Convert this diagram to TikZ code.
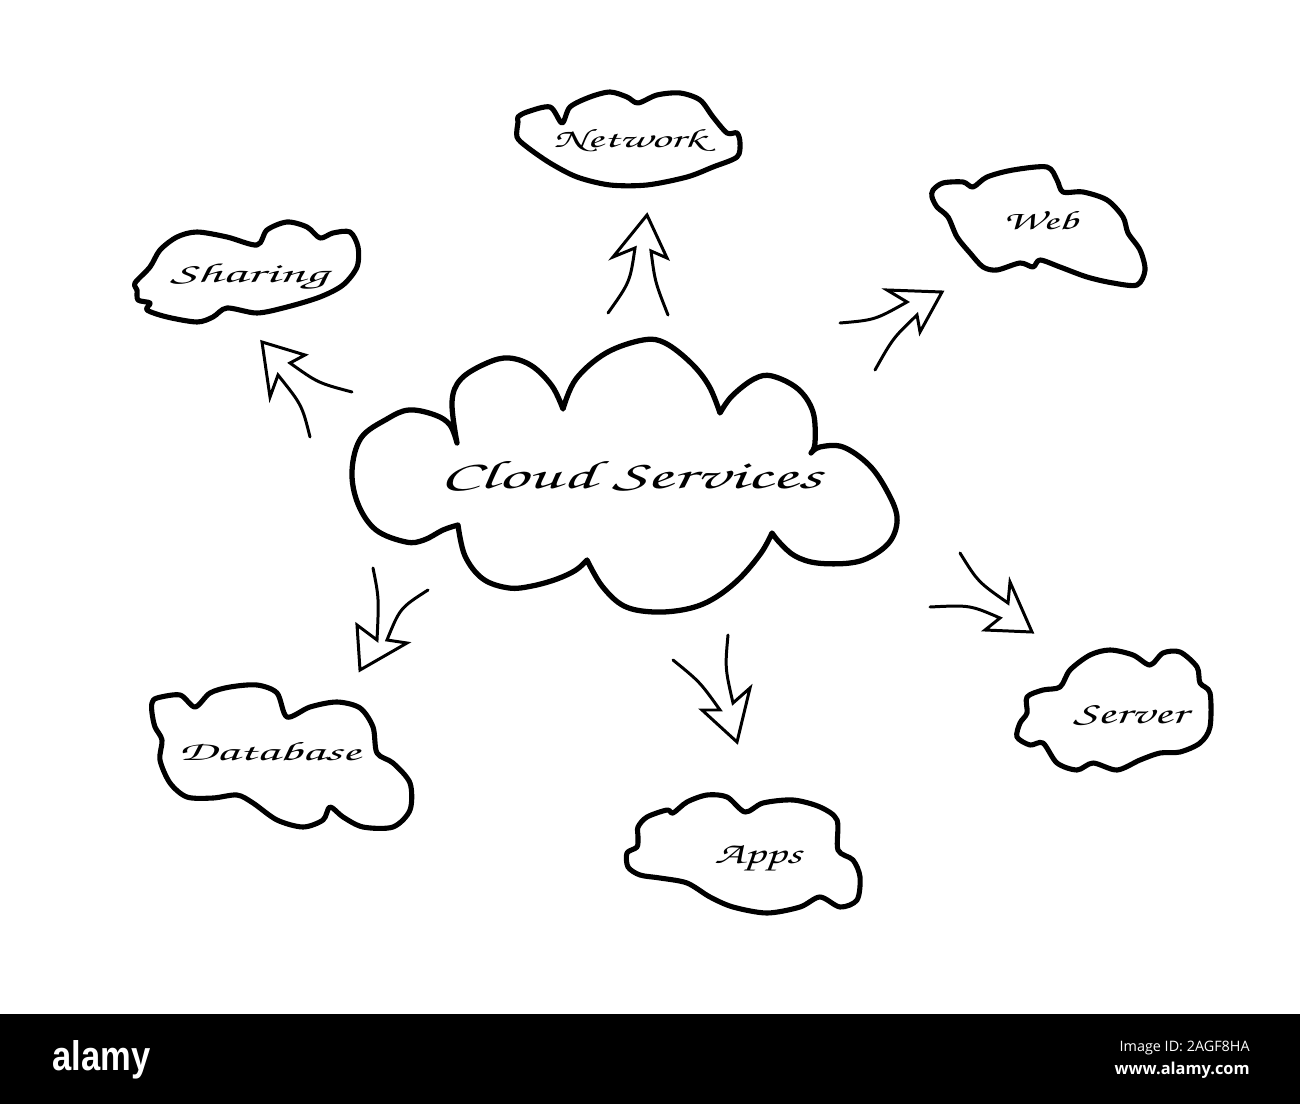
\documentclass[tikz,border=0pt]{standalone}
\usepackage{fontspec}
\usepackage{graphicx}
\newfontfamily\hand{TeX Gyre Chorus}
\newfontfamily\wmfont{Liberation Sans}
\newfontfamily\idfont{Open Sans}
\newcommand\lbl[3]{\resizebox{#1}{#2}{\hand #3}}
\begin{document}
\begin{tikzpicture}[x=0.02cm,y=-0.02cm,
  cloudline/.style={line width=2.9pt,line join=round,line cap=round},
  bigcloud/.style={line width=3.0pt,line join=round,line cap=round},
  arrowline/.style={line width=1.7pt,line join=miter,line cap=round},
  lab/.style={anchor=base,inner sep=0pt}]
\useasboundingbox (0,0) rectangle (1300,1104);
\fill[white] (0,0) rectangle (1300,1104);

% central cloud (lobes between notches)
\draw[bigcloud]
  plot[smooth,tension=0.6] coordinates {(457,443) (452,402) (461,379) (487,363) (509,358) (532,366) (552,386) (563,409)}
  -- plot[smooth,tension=0.6] coordinates {(563,409) (576,379) (606,353) (643,340) (665,343) (691,363) (709,386) (720,413)}
  -- plot[smooth,tension=0.6] coordinates {(720,413) (732,396) (754,379) (772,376) (798,389) (813,412) (815,443) (811,453)}
  -- plot[smooth,tension=0.6] coordinates {(811,453) (820,447) (843,447) (869,465) (887,491) (897,517) (891,540) (872,556) (850,563) (817,563) (795,556) (780,543) (772,533)}
  -- plot[smooth,tension=0.6] coordinates {(772,533) (761,553) (739,579) (713,599) (687,609) (654,612) (624,606) (602,586) (587,560)}
  -- plot[smooth,tension=0.6] coordinates {(587,560) (576,570) (557,579) (532,586) (509,588) (483,579) (465,556) (458,525)}
  -- plot[smooth,tension=0.6] coordinates {(458,525) (443,530) (424,540) (406,542) (376,530) (358,504) (352,471) (361,438) (387,419) (409,410) (435,415) (450,425) (457,443)}
  -- cycle;
\node[lab] (center) at (631,488) {\lbl{7.62cm}{0.54cm}{Cloud Services}};

% Network
\draw[cloudline] plot[smooth cycle,tension=0.5] coordinates {(518,117) (527,112) (550,107) (562,123) (570,107) (590,97) (610,92) (627,97) (638,103) (657,95) (680,93) (700,100) (713,117) (727,133) (737,133) (740,143) (737,157) (713,167) (687,177) (647,185) (610,185) (577,177) (550,163) (527,147) (517,137) (518,122)};
\node[lab] (network) at (629,148) {\lbl{3.04cm}{0.36cm}{Network}};

% Sharing
\draw[cloudline] plot[smooth cycle,tension=0.5] coordinates {(137,290) (135,283) (150,267) (160,250) (177,237) (197,232) (227,237) (257,245) (267,230) (287,222) (307,227) (320,238) (333,233) (350,232) (358,247) (357,267) (343,285) (320,297) (287,307) (257,313) (227,308) (213,317) (197,322) (167,317) (147,310) (150,303) (138,300)};
\node[lab] (sharing) at (249,283) {\lbl{3.16cm}{0.37cm}{Sharing}};

% Web
\draw[cloudline] plot[smooth cycle,tension=0.5] coordinates {(933,190) (943,183) (963,182) (973,187) (987,177) (1013,170) (1047,167) (1057,180) (1063,192) (1083,192) (1107,200) (1123,217) (1128,233) (1140,250) (1145,270) (1137,285) (1113,283) (1087,277) (1060,267) (1040,260) (1033,267) (1020,263) (997,270) (983,267) (970,253) (957,237) (948,217) (937,207) (932,197)};
\node[lab] (web) at (1040,230) {\lbl{1.5cm}{0.36cm}{Web}};

% Database
\draw[cloudline] plot[smooth cycle,tension=0.5] coordinates {(152,703) (157,698) (180,695) (195,707) (210,693) (230,687) (257,685) (277,693) (287,717) (310,707) (337,702) (360,708) (373,727) (377,753) (393,763) (410,783) (410,810) (393,827) (363,827) (343,817) (330,807) (323,820) (303,827) (277,820) (253,803) (237,795) (213,798) (187,797) (170,783) (160,760) (162,740) (155,727) (152,713)};
\node[lab] (database) at (269,760) {\lbl{3.64cm}{0.36cm}{Database}};

% Apps
\draw[cloudline] plot[smooth cycle,tension=0.5] coordinates {(638,827) (647,817) (667,810) (673,813) (687,802) (707,795) (727,797) (745,812) (763,803) (793,800) (820,807) (837,820) (838,850) (853,860) (860,877) (857,900) (840,907) (820,897) (800,907) (767,913) (733,907) (710,897) (687,883) (660,878) (640,875) (628,867) (627,853) (637,847) (638,837)};
\node[lab] (apps) at (758,863) {\lbl{1.74cm}{0.36cm}{Apps}};

% Server
\draw[cloudline] plot[smooth cycle,tension=0.5] coordinates {(1027,697) (1043,690) (1060,687) (1070,670) (1090,655) (1110,650) (1133,655) (1150,665) (1163,653) (1180,652) (1197,667) (1200,683) (1210,693) (1210,727) (1200,743) (1180,752) (1160,753) (1140,760) (1117,770) (1093,763) (1077,770) (1057,763) (1043,743) (1030,745) (1017,737) (1020,723) (1027,713)};
\node[lab] (server) at (1130,723) {\lbl{2.28cm}{0.36cm}{Server}};

% hollow sketch arrows
\draw[arrowline] (608,313) .. controls (630,282) .. (635,248) -- (613,257) -- (647,215) -- (667,258) -- (651,251) .. controls (655,282) .. (668,315);
\draw[arrowline] (310,437) .. controls (302,405) .. (278,375) -- (270,397) -- (262,342) -- (305,355) -- (290,363) .. controls (318,383) .. (352,392);
\draw[arrowline] (840,323) .. controls (875,320) .. (907,302) -- (887,290) -- (942,292) -- (920,332) -- (917,315) .. controls (893,338) .. (875,370);
\draw[arrowline] (373,568) .. controls (379,598) .. (377,640) -- (357,625) -- (360,670) -- (407,643) -- (387,640) .. controls (400,608) .. (428,590);
\draw[arrowline] (728,635) .. controls (725,668) .. (733,703) -- (750,688) -- (737,742) -- (702,710) -- (720,710) .. controls (700,682) .. (673,660);
\draw[arrowline] (960,553) .. controls (978,582) .. (1008,603) -- (1010,582) -- (1032,632) -- (985,630) -- (1000,618) .. controls (970,605) .. (930,607);

% watermark bar
\fill[black] (0,1014) rectangle (1300,1104);
\node[anchor=base west,inner sep=0pt,text=white] (alamy) at (52,1070) {\resizebox{1.96cm}{0.6cm}{\wmfont\bfseries alamy}};
\node[anchor=base east,inner sep=0pt,text=white] (imgid) at (1250,1051) {\resizebox{2.6cm}{!}{\idfont Image ID: 2AGF8HA}};
\node[anchor=base east,inner sep=0pt,text=white] (www) at (1250,1074) {\resizebox{2.7cm}{!}{\idfont\bfseries www.alamy.com}};
\end{tikzpicture}
\end{document}
